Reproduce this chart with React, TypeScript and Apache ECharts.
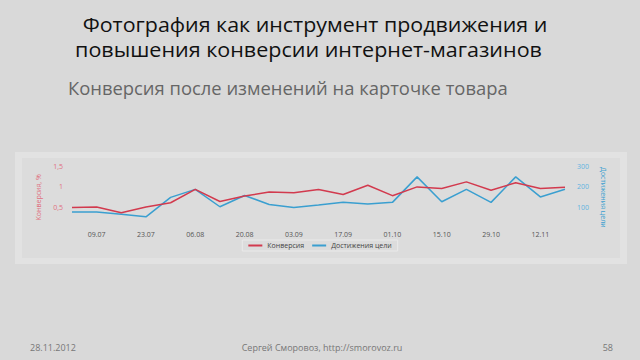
import React, { useEffect, useRef } from "react";
import * as echarts from "echarts";

const categories = [
  "02.07", "09.07", "16.07", "23.07", "30.07", "06.08", "13.08", "20.08", "27.08", "03.09",
  "10.09", "17.09", "24.09", "01.10", "08.10", "15.10", "22.10", "29.10", "05.11", "12.11", "19.11",
];
const conversion = [
  0.51, 0.52, 0.38, 0.52, 0.62, 0.94, 0.65, 0.78, 0.88, 0.86,
  0.94, 0.82, 1.04, 0.79, 1.0, 0.96, 1.12, 0.92, 1.1, 0.96, 0.99,
];
const goals = [
  80, 80, 69, 57, 150, 188, 105, 159, 116, 102,
  113, 126, 118, 126, 248, 129, 188, 126, 248, 152, 189,
];
const seriesNames = ["Конверсия", "Достижения цели"];
const titleLines = [
  "Фотография как инструмент продвижения и",
  "повышения конверсии интернет-магазинов",
];
const subtitle = "Конверсия после изменений на карточке товара";
const footerDate = "28.11.2012";
const footerAuthor = "Сергей Сморовоз, http://smorovoz.ru";
const footerPage = "58";

const RED = "#d23a4e";
const BLUE = "#3a9fd0";
const FONT = "'Open Sans', 'Noto Sans', sans-serif";

export default function App() {
  const ref = useRef<HTMLDivElement>(null);
  useEffect(() => {
    if (!ref.current) return;
    const chart = echarts.init(ref.current, null, { renderer: "svg" });
    chart.setOption({
      animation: false,
      backgroundColor: "#d9d9d9",
      textStyle: { fontFamily: FONT },
      graphic: [
        { type: "rect", shape: { x: 15, y: 152, width: 612, height: 112 }, style: { fill: "#e2e2e2" }, z: -10 },
        { type: "rect", shape: { x: 22, y: 158, width: 598, height: 100 }, style: { fill: "#dcdcdc" }, z: -9 },
        {
          type: "text",
          x: 315,
          y: 24,
          scaleX: 1.045,
          style: { text: titleLines[0], fontFamily: FONT, fontSize: 20.5, lineHeight: 24, fill: "#111", align: "center", verticalAlign: "middle" },
        },
        {
          type: "text",
          x: 308.5,
          y: 49,
          scaleX: 1.05,
          style: { text: titleLines[1], fontFamily: FONT, fontSize: 20.5, lineHeight: 24, fill: "#111", align: "center", verticalAlign: "middle" },
        },
        { type: "text", x: 68, y: 87, style: { text: subtitle, fontFamily: FONT, fontSize: 18.4, fill: "#666", align: "left", verticalAlign: "middle" } },
        { type: "text", x: 30, y: 347, style: { text: footerDate, fontFamily: FONT, fontSize: 9, fill: "#777", align: "left", verticalAlign: "middle" } },
        { type: "text", x: 322, y: 347, style: { text: footerAuthor, fontFamily: FONT, fontSize: 9, fill: "#777", align: "center", verticalAlign: "middle" } },
        { type: "text", x: 613, y: 347, style: { text: footerPage, fontFamily: FONT, fontSize: 9, fill: "#777", align: "right", verticalAlign: "middle" } },
      ],
      legend: {
        top: 240,
        left: "center",
        itemWidth: 14,
        itemHeight: 2,
        itemGap: 8,
        padding: [2, 6],
        borderColor: "#eaeaea",
        borderWidth: 1,
        textStyle: { fontSize: 7, color: "#444", fontFamily: FONT },
        icon: "rect",
        data: seriesNames,
      },
      grid: { left: 72, right: 75, top: 166, bottom: 131.3 },
      xAxis: {
        type: "category",
        data: categories,
        boundaryGap: false,
        axisLine: { show: false },
        axisTick: { show: false },
        axisLabel: {
          interval: (i: number) => i % 2 === 1,
          fontSize: 7,
          color: "#555",
          margin: 2,
        },
      },
      yAxis: [
        {
          type: "value",
          min: 0,
          max: 1.5,
          interval: 0.5,
          name: "Конверсия, %",
          nameLocation: "middle",
          nameRotate: 90,
          nameGap: 28,
          nameTextStyle: { color: "#e07080", fontSize: 7 },
          axisLine: { show: false },
          axisTick: { show: false },
          splitLine: { show: false },
          axisLabel: {
            fontSize: 7,
            color: "#e07080",
            margin: 9,
            formatter: (v: number) => (v === 0 ? "" : String(v).replace(".", ",")),
          },
        },
        {
          type: "value",
          min: 0,
          max: 300,
          interval: 100,
          name: "Достижения цели",
          nameLocation: "middle",
          nameRotate: -90,
          nameGap: 30,
          nameTextStyle: { color: BLUE, fontSize: 7 },
          axisLine: { show: false },
          axisTick: { show: false },
          splitLine: { show: false },
          axisLabel: {
            fontSize: 7,
            color: "#5fb4e0",
            margin: 12,
            formatter: (v: number) => (v === 0 ? "" : String(v)),
          },
        },
      ],
      series: [
        {
          name: seriesNames[0],
          type: "line",
          data: conversion,
          yAxisIndex: 0,
          symbol: "none",
          lineStyle: { color: RED, width: 1.5 },
          itemStyle: { color: RED },
          z: 3,
        },
        {
          name: seriesNames[1],
          type: "line",
          data: goals,
          yAxisIndex: 1,
          symbol: "none",
          lineStyle: { color: BLUE, width: 1.5 },
          itemStyle: { color: BLUE },
          z: 2,
        },
      ],
    });
    return () => chart.dispose();
  }, []);
  return <div ref={ref} style={{ width: 640, height: 360, position: "fixed", left: 0, top: 0 }} />;
}
